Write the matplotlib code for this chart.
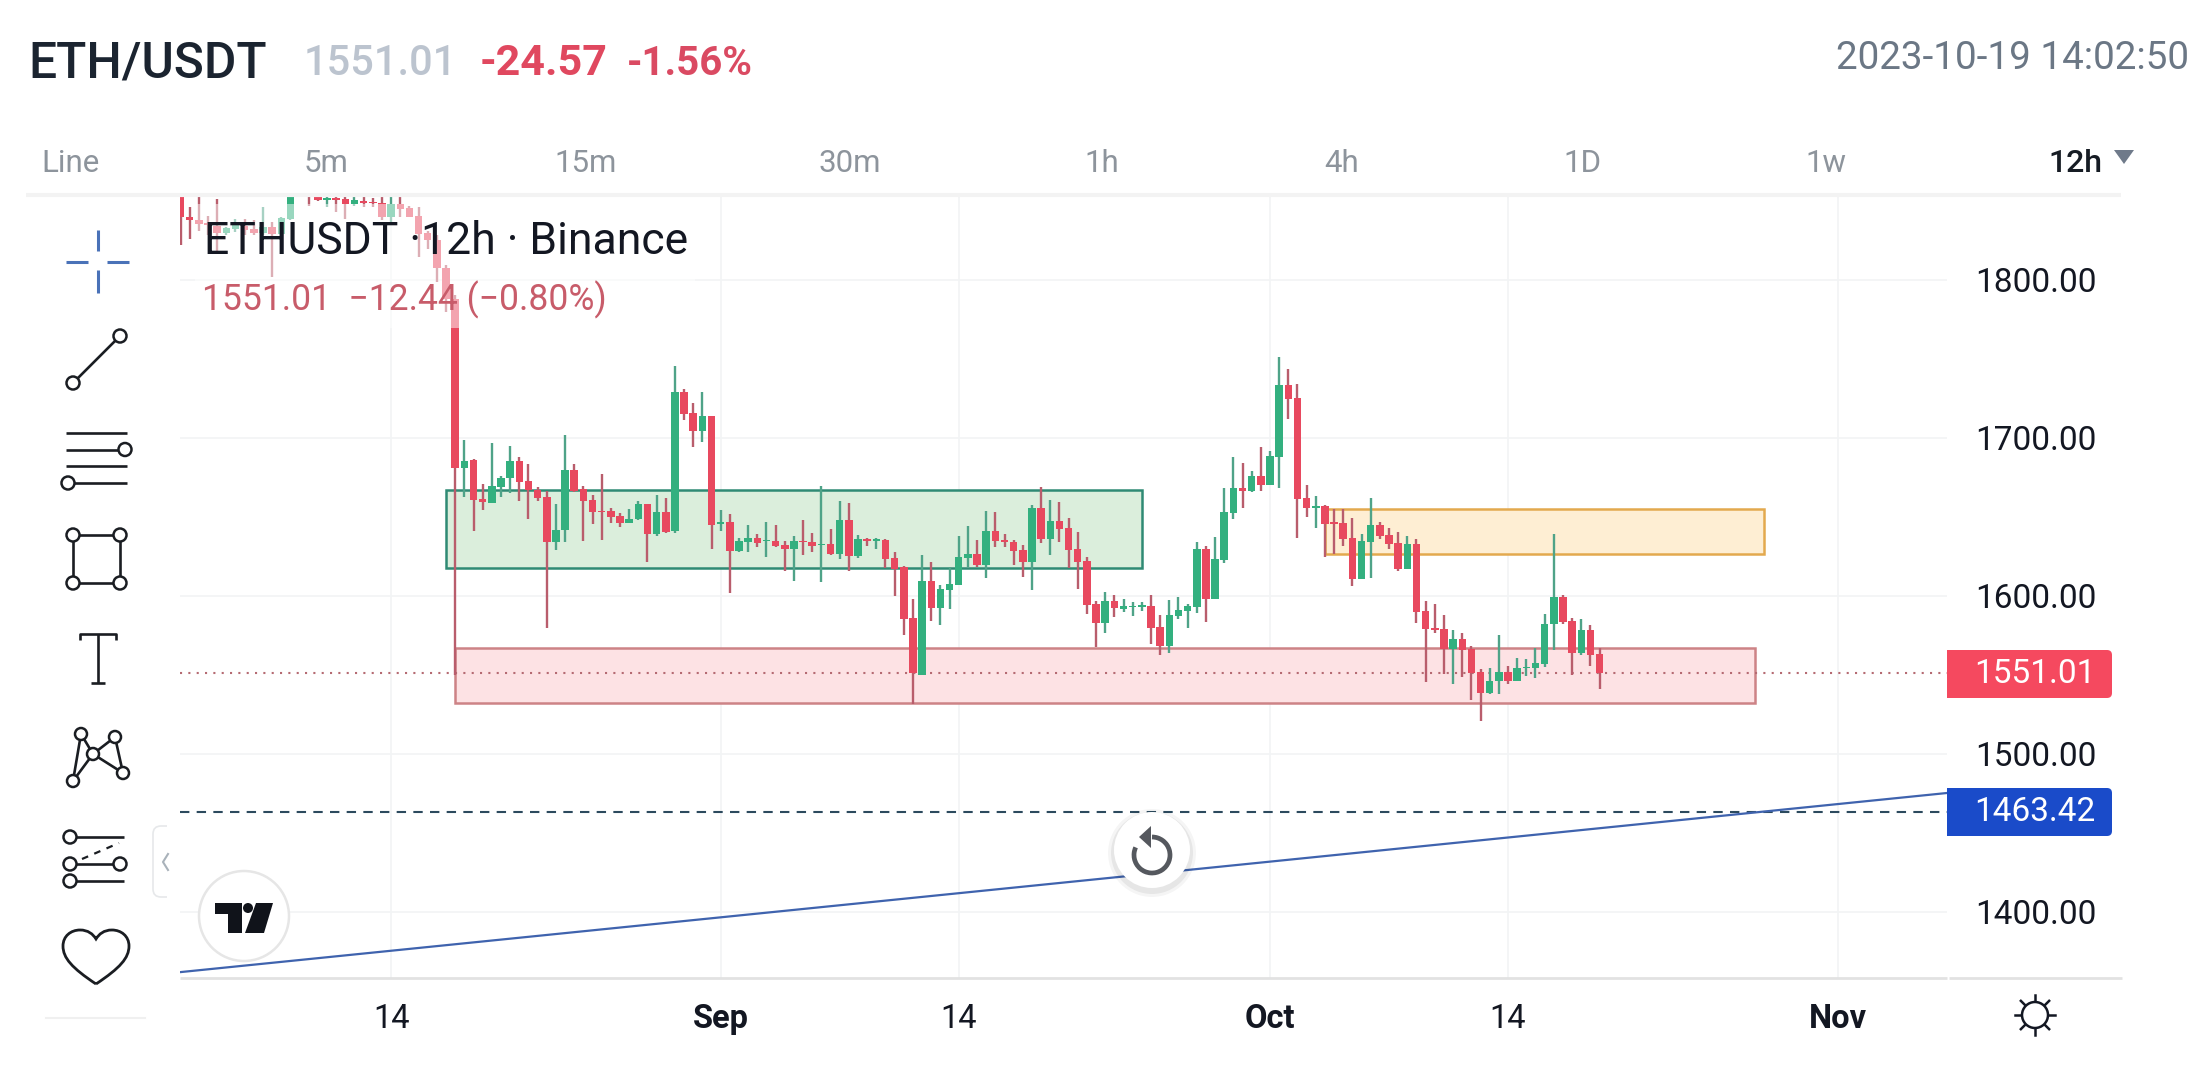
import numpy as np
import pandas as pd
import matplotlib
matplotlib.use("Agg")
import matplotlib.pyplot as plt
import matplotlib.dates as mdates
from matplotlib.patches import Rectangle, Circle, Polygon, FancyBboxPatch, PathPatch, Arc
from matplotlib.path import Path

plt.rcParams['font.family'] = ['Roboto', 'DejaVu Sans']

# ---------- data ----------
first_bar = '2023-08-02 12:00'
opens = [1870,1840,1838,1836,1834.4,1830,1832,1834.4,1832,1830,1833.8,1829,1838.4,1858,1862,1855,1850.6,1852,1851,1848,1850.2,1849.6,1849,1840,1848,1845.6,1840.5,1829.5,1825.3,1807.4,
 1787.8,1681,1686,1661.4,1659,1669,1674.4,1685.4,1672.5,1667,1662.4,1634.3,1641.7,1679.7,1667.5,1660.7,1654,1654,1650.6,1646.4,1648.7,1658.2,1639.2,1653.1,1641.1,1729,1715.6,1704.6,1713.9,
 1645.3,1646.6,1628.4,1634.3,1636.5,1634.9,1635,1632.2,1629.7,1635,1634.1,1632.5,
 1632.9,1626.5,1648.1,1625.3,1636.2,1635,1635.4,1623.8,1618.1,1586,1550.2,1609.4,1592.4,1604,1607.1,1624.2,1626.5,1619.6,1641.1,1635.4,1634.1,1628.9,1621.7,1655.4,1636.2,1647.2,1643,1629.5,1621.9,1594.9,1583.1,1596.6,1592,1593.2,1592.8,1593.6,1580.1,1568.5,1587.5,1590.7,
 1593.2,1629.5,1598.3,1622.7,1652.7,1668.1,1666.4,1675.9,1670.2,1688.2,1733.5,1725.1,1662,1656,1656.9,1646.6,1646,1636.5,1610.7,1634.3,1644.7,1638.4,1633.3,1617,1632.9,1590.2,1579.7,1578.9,1566.6,1572.5,1566.6,1551.8,1538.8,1545.9,1551.6,1546.4,1554.2,1554.2,
 1556.9,1582,1599.3,1584.1,1564.1,1578.4,1563]
closes = [1840,1838,1835.4,1835,1830,1832.7,1834.8,1831.7,1830,1833.8,1828.9,1839,1860,1862,1858,1850.6,1852,1850.6,1848,1850.6,1849,1848.8,1840,1848,1845,1840,1829,1825,1807.4,1787.8,
 1681,1685.6,1660.7,1659.7,1669.6,1674.6,1685.4,1672.3,1667,1662,1634.3,1642,1679.7,1666.6,1660,1653.3,1653,1650.2,1646,1649,1658.2,1639.4,1653.1,1640.7,1729,1715.2,1704.6,1713.9,1645,
 1646.6,1628.6,1634.6,1636.5,1633.3,1635.4,1631.6,1629.7,1635,1634,1631.6,1633.2,
 1626.5,1648.1,1625.3,1635.8,1634.6,1635.8,1623.6,1616.8,1585.4,1551.2,1609.4,1592.4,1604.4,1607.5,1624.4,1626.5,1619.4,1641.1,1635,1634.1,1628.6,1621.5,1655.4,1636,1647.2,1642.6,1629.3,1621.5,1594.5,1583.1,1596.6,1592.6,1593.4,1593.8,1594.5,1579.7,1568.5,1587.9,1590.9,1593.8,
 1629.5,1598.3,1623.2,1652.9,1668.1,1666.6,1675.9,1670.2,1688.6,1733.5,1724.7,1661.6,1655.9,1656.9,1645.5,1645.3,1636,1610.7,1634.8,1644.7,1637.9,1632.9,1616.8,1632.7,1589.8,1579.3,1578.4,1566.6,1572.5,1565.8,1551.4,1538.8,1545.9,1551.6,1546.4,1554.2,1555.2,1557.3,
 1582.2,1599.3,1583.3,1564.1,1578.4,1562.8,1551.01]
highs = [1880,1846,1858,1840.5,1851,1833.8,1838.4,1838.4,1838,1846.4,1837,1840,1862,1866,1866,1858,1856,1856,1856,1853.6,1853.8,1851.7,1856,1852.7,1855,1847,1846,1831.2,1828.5,1809.5,
 1790.5,1699,1687,1671,1696.6,1676,1695,1688,1683.5,1668.7,1666.6,1658,1701.9,1683.5,1669.6,1664,1677,1655.4,1652.7,1655,1660,1658.5,1663.9,1661.8,1745.5,1731,1722,1729,1714,
 1654.4,1651.9,1636.5,1644.9,1639,1647,1644.9,1635,1638.1,1648,1640,1669.6,
 1642.2,1660.1,1659,1638.6,1636.7,1637,1636,1628,1619,1598,1625.9,1621.3,1606.9,1618.5,1637.9,1644.3,1635.4,1653.8,1653.1,1639.2,1635.4,1632,1657.6,1669.2,1660.7,1659.5,1649.1,1640.5,1624.8,1596.6,1602.3,1600.4,1598,1596.4,1596.2,1600.4,1587.9,1597.4,1599.1,1595,
 1633.9,1631.6,1637.1,1668.1,1687.7,1683.9,1679.1,1694,1691.7,1751,1743.6,1733.9,1670.2,1663.3,1657.6,1654.8,1655,1649.1,1639,1661.8,1647,1642.8,1640.7,1638.1,1636,1597,1594.7,1587.7,1578.4,1576.3,1568.3,1553.5,1554.2,1575.3,1555.9,1561,1559.9,1566.8,
 1588.3,1639.2,1600.6,1585.8,1585.2,1581.6,1566.8]
lows = [1822,1826,1831,1828.5,1816.5,1828.5,1830.6,1828.5,1828.5,1828.5,1802,1828,1838,1853,1847,1850,1846.4,1843,1838.4,1846.8,1846.4,1846.4,1838,1837,1840,1840,1814.3,1819.4,1799,1780,
 1550,1662.4,1641,1654.4,1658.6,1662.4,1665,1660,1649,1660.3,1580,1629,1634.3,1666,1635,1645.5,1635.4,1646.4,1643.8,1646,1648,1621.7,1638,1639.6,1640,1711.4,1694.5,1697.6,1629.5,
 1641,1602,1628,1628,1630.8,1624.9,1630.8,1616,1609.7,1626,1628,1609,
 1625.9,1623.6,1616,1624.2,1631.6,1629.7,1617.9,1600.2,1575.3,1531.4,1550,1584.1,1581.6,1591.7,1607,1618.5,1618.1,1611.6,1631.2,1631.2,1619.6,1612.2,1603.7,1633.3,1625.9,1634.3,1617.9,1604.4,1588.6,1567.5,1576.7,1586.9,1590,1587.3,1590.7,1569.6,1562.6,1564,1585.4,1579.9,
 1589.4,1583.7,1598,1621,1648.5,1655.4,1665.8,1666.6,1670,1668.1,1712.2,1636.9,1650.2,1643.2,1624.9,1626.5,1631.6,1606.5,1610.5,1611.6,1636,1629.7,1616,1617,1583,1545.7,1576.3,1550.6,1544.2,1548.9,1534.1,1521,1537.9,1537.7,1544.2,1546,1549.3,1547.8,
 1555.2,1565.8,1582.2,1549.9,1562.4,1555.8,1541.3]

zones = {
    'green':  ('2023-08-17 00:00', '2023-09-24 00:00', 1617.5, 1667.0),
    'red':    ('2023-08-17 12:00', '2023-10-27 12:00', 1532.4, 1567.2),
    'orange': ('2023-10-04 00:00', '2023-10-28 00:00', 1626.5, 1655.2),
}
zone_colors = {'green': ('#dbeedc', '#2f8a74'), 'red': ('#fde2e4', '#cd8386'), 'orange': ('#feeed3', '#e3a94e')}
trend_dates = ['2023-08-02 12:40', '2023-11-06 23:00']
trend_prices = [1362.0, 1475.3]
last_price = 1551.01
alert_price = 1463.42
price_ticks = [1400, 1500, 1600, 1700, 1800]
date_ticks = ['2023-08-14', '2023-09-01', '2023-09-14', '2023-10-01', '2023-10-14', '2023-11-01']
date_labels = ['14', 'Sep', '14', 'Oct', '14', 'Nov']
tabs = ['Line', '5m', '15m', '30m', '1h', '4h', '1D', '1w']

# ---------- layout ----------
W, H = 2197, 1080
fig = plt.figure(figsize=(W/100, H/100), dpi=100, facecolor='white')
L, R, T, B = 180, 1947, 193, 978
ax = fig.add_axes([L/W, 1-B/H, (R-L)/W, (B-T)/H])
for s in ax.spines.values():
    s.set_visible(False)

dates = pd.date_range(first_bar, periods=len(opens), freq='12h')
x = mdates.date2num(dates)
o, h, l, c = map(np.array, (opens, highs, lows, closes))
up = c >= o
ax.vlines(x, l, h, colors=np.where(up, '#4fa388', '#b95d6c'), linewidth=1.7, zorder=4)
ax.bar(x, np.abs(c-o), bottom=np.minimum(o, c), width=0.41, color=np.where(up, '#33b07f', '#e8495f'), linewidth=0, zorder=5)

for name, (d0, d1, p0, p1) in zones.items():
    n0, n1 = mdates.date2num(pd.Timestamp(d0)), mdates.date2num(pd.Timestamp(d1))
    fc, ec = zone_colors[name]
    ax.add_patch(Rectangle((n0, p0), n1-n0, p1-p0, facecolor=fc, edgecolor=ec, linewidth=1.8, zorder=2))

ax.plot(mdates.date2num(pd.to_datetime(trend_dates)), trend_prices, color='#3f63ae', lw=1.6, zorder=6)
ax.axhline(last_price, color='#b56a72', lw=1.5, ls=(0, (1, 3)), zorder=3)
ax.axhline(alert_price, color='#2c4a5e', lw=1.5, ls=(0, (4.5, 3.5)), zorder=3)

x_sep = mdates.date2num(pd.Timestamp('2023-09-01'))
px_per_day = 18.31
ax.set_xlim(x_sep-(720.7-L)/px_per_day, x_sep+(R-720.7)/px_per_day)
ax.set_ylim(1600-(B-596)/1.58, 1600+(596-T)/1.58)

ax.set_xticks(mdates.date2num(pd.to_datetime(date_ticks)))
ax.set_xticklabels(date_labels, fontsize=23.5, color='#131722')
for t, lab in zip(ax.get_xticklabels(), date_labels):
    if not lab.isdigit():
        t.set_fontweight('bold')
ax.yaxis.tick_right()
ax.set_yticks(price_ticks)
ax.set_yticklabels([f'{v:.2f}' for v in price_ticks], fontsize=24, color='#131722')
ax.tick_params(axis='x', length=0, pad=18)
ax.tick_params(axis='y', length=0, pad=20.5)
ax.grid(True, color='#f2f4f5', lw=1.2, zorder=0)
ax.set_axisbelow(True)

# ---------- overlay chrome (pixel coordinates) ----------
ov = fig.add_axes([0, 0, 1, 1], zorder=5)
ov.set_xlim(0, W); ov.set_ylim(H, 0); ov.axis('off'); ov.patch.set_alpha(0)

ov.add_patch(Rectangle((195, 204), 500, 124, facecolor='white', alpha=0.5, lw=0, zorder=1))
ov.plot([26, 2121], [195, 195], color='#f3f3f3', lw=3, solid_capstyle='butt', zorder=1)
ov.plot([180, 1947], [978, 978], color='#e2e2e2', lw=2, solid_capstyle='butt')
ov.plot([1949, 2122], [978, 978], color='#e2e2e2', lw=2, solid_capstyle='butt')
ov.plot([46, 145], [1018, 1018], color='#f0f0f0', lw=1.5)

ov.text(28, 77, 'ETH/USDT', fontsize=35.8, color='#1b2430', weight='medium')
ov.text(304, 75, '1551.01', fontsize=30, color='#bcc4cf', weight='medium')
ov.text(480, 75, '-24.57', fontsize=31, color='#e0485f', weight='bold')
ov.text(627, 75, '-1.56%', fontsize=29, color='#da4a62', weight='bold')
ov.text(2189, 69, '2023-10-19 14:02:50', fontsize=27.8, color='#6b7785', ha='right')

tab_x = [70, 326, 586, 850, 1102, 1342, 1582, 1826]
for s, xx in zip(tabs, tab_x):
    ov.text(xx, 172, s, fontsize=22.5, color='#8d949c', ha='center')
ov.text(2075, 172, '12h', fontsize=23, color='#161c24', ha='center', weight='medium')
ov.add_patch(Polygon([(2114, 150), (2134, 150), (2124, 164)], color='#6f7a8a', lw=0))

ov.text(204, 254, 'ETHUSDT ·12h · Binance', fontsize=32, color='#131722', zorder=3)
ov.text(202, 310, '1551.01  −12.44 (−0.80%)', fontsize=25.6, color='#c85c6a', zorder=3)

for yy, col, lab in [(650, '#f5495f', '1551.01'), (788, '#1a4bc9', '1463.42')]:
    ov.add_patch(FancyBboxPatch((1947, yy), 165, 48, boxstyle='round,pad=0,rounding_size=5', fc=col, ec='none', zorder=3))
    ov.add_patch(Rectangle((1947, yy), 10, 48, fc=col, lw=0, zorder=3))
    ov.text(2035, yy+24, lab, fontsize=24, color='white', ha='center', va='center', zorder=4)

# sun
ov.add_patch(Circle((2035, 1015), 13, fc='none', ec='#131722', lw=1.8))
for a in np.arange(0, 360, 45):
    ca, sa = np.cos(np.radians(a)), np.sin(np.radians(a))
    ov.plot([2035+14*ca, 2035+20*ca], [1015+14*sa, 1015+20*sa], color='#131722', lw=1.8)

# toolbar
ink = '#1a1d22'
def dot(px, py, r=6.5):
    ov.add_patch(Circle((px, py), r, fc='white', ec=ink, lw=1.8, zorder=4))
def seg(xs, ys, lw=1.9, **kw):
    ov.plot(xs, ys, color=ink, lw=lw, zorder=3, solid_capstyle='butt', **kw)

blue = '#4a72b8'
for xs, ys in [([66, 88], [262, 262]), ([107, 129], [262, 262]), ([98, 98], [230, 251]), ([98, 98], [270, 293])]:
    ov.plot(xs, ys, color=blue, lw=2.2, solid_capstyle='butt')
seg([73, 120], [383, 336]); dot(73, 383); dot(120, 336)
seg([66, 127], [433, 433]); seg([66, 120], [449.5, 449.5]); dot(125, 449.5)
seg([66, 127], [466, 466]); seg([68, 127], [483, 483]); dot(68, 483)
seg([73, 120, 120, 73, 73], [535, 535, 583, 583, 535]); [dot(a, b) for a, b in [(73, 535), (120, 535), (73, 583), (120, 583)]]
seg([80, 80, 116, 116], [640, 634, 634, 640]); seg([98, 98], [634, 683]); seg([91, 105], [683, 683])
pts = {'a': (73, 781), 'b': (81, 734), 'c': (93, 754), 'd': (115, 737), 'e': (123, 773)}
for u, v in ['ab', 'ac', 'cb', 'cd', 'de', 'ce']:
    seg([pts[u][0], pts[v][0]], [pts[u][1], pts[v][1]])
for p in pts.values():
    dot(*p, r=6)
seg([70, 124], [837, 837]); dot(70, 837)
seg([82, 119], [859, 843], lw=1.6, ls=(0, (3, 3)))
seg([70, 120], [864, 864]); dot(70, 864); dot(120, 864)
seg([70, 124], [881, 881]); dot(70, 881)
heart = Path([(96, 984), (72, 968), (63, 958), (63, 946), (63, 936), (71, 930), (80, 930), (88, 930), (93, 934), (96, 939),
              (99, 934), (104, 930), (112, 930), (121, 930), (129, 936), (129, 946), (129, 958), (120, 968), (96, 984)],
             [Path.MOVETO]+[Path.CURVE4]*18)
ov.add_patch(PathPatch(heart, fc='none', ec=ink, lw=2))

# collapse tab
tab = FancyBboxPatch((153, 826), 30, 71, boxstyle='round,pad=0,rounding_size=8', fc='white', ec='#e6e8ea', lw=1.2, zorder=2)
ov.add_patch(tab)
ov.add_patch(Rectangle((167, 820), 20, 85, fc='white', lw=0, zorder=2))
ov.plot([168, 163, 168], [854, 862, 870], color='#a9b2ba', lw=1.5, zorder=3)

# TradingView badge
ov.add_patch(Circle((244, 916), 45, fc='white', ec='#e6e6e6', lw=1.8, zorder=3))
tv = '#10131a'
ov.add_patch(Polygon([(215, 903), (242, 903), (242, 933), (228, 933), (228, 914), (215, 914)], fc=tv, lw=0, zorder=4))
ov.add_patch(Circle((248, 908), 5, fc=tv, lw=0, zorder=4))
ov.add_patch(Polygon([(256, 903), (273, 903), (264, 933), (245, 933)], fc=tv, lw=0, zorder=4))

# replay button
for r, a in [(44, 0.04), (41, 0.06)]:
    ov.add_patch(Circle((1152, 853), r, fc='#000000', alpha=a, lw=0, zorder=3))
ov.add_patch(Circle((1152, 850), 38, fc='white', lw=0, zorder=3))
ov.add_patch(Arc((1152, 855), 36, 36, theta1=-90, theta2=205, color='#55585e', lw=3.4, zorder=4))
ov.add_patch(Polygon([(1139, 837), (1151, 826), (1151, 848)], fc='#55585e', lw=0, zorder=4))

fig.savefig('out.png', dpi=100, facecolor='white')
